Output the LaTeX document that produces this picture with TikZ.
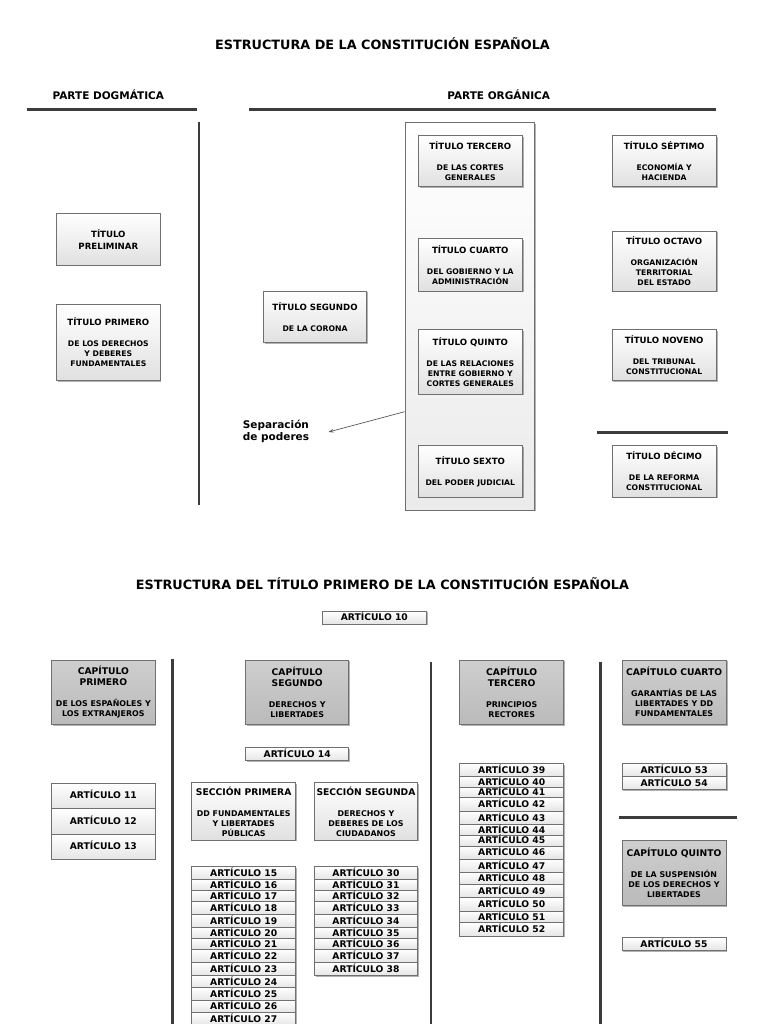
\documentclass[tikz,border=0pt]{standalone}
\usepackage{fontspec}
\setmainfont{DejaVu Sans}
\usetikzlibrary{shadows,arrows.meta}
\definecolor{linec}{HTML}{3C3C3C}
\definecolor{boxline}{HTML}{707070}
\newcommand\titf{\fontsize{12.8}{15}\selectfont\bfseries}
\newcommand\partf{\fontsize{10.5}{12}\selectfont\bfseries}
\newcommand\ttlf{\fontsize{8.6}{11}\selectfont}
\newcommand\ttlb{\fontsize{9.2}{11}\selectfont}
\newcommand\subf{\fontsize{7.7}{10}\selectfont\bfseries}
\newcommand\subb{\fontsize{7.9}{10}\selectfont\bfseries}
\newcommand\artf{\fontsize{9.2}{10}\selectfont\bfseries}
\newcommand\sepf{\fontsize{10.5}{12.7}\selectfont\bfseries}
\begin{document}
\begin{tikzpicture}[x=1pt,y=-1pt,
  shd/.style={drop shadow={shadow xshift=1.2pt,shadow yshift=-1.2pt,opacity=0.3,fill=black}},
  box/.style={draw=boxline,line width=0.8pt,top color=white,bottom color=black!12,shd,align=center,inner sep=0pt,font=\subf},
  bbox/.style={box,font=\subb},
  dbox/.style={bbox,top color=black!19,bottom color=black!27},
  art/.style={draw=boxline,line width=0.7pt,top color=white,bottom color=black!10,shd,inner sep=0pt,text height=6.7pt,text depth=0pt,font=\artf},
  cont/.style={draw=boxline,line width=0.8pt,top color=white,bottom color=black!8,shd},
  rule/.style={draw=linec,line width=3pt},
  vrule/.style={draw=linec,line width=2.2pt},
  ptr/.style={draw=black!65,line width=0.7pt,-{Stealth[length=5pt,width=3.6pt]}},
  head/.style={anchor=base,inner sep=0pt}
]
\fill[white] (0,0) rectangle (768,1024);
\useasboundingbox (0,0) rectangle (768,1024);

% ---------------- top part ----------------
\node[head,font=\titf] (tit1) at (382.5,49.4) {ESTRUCTURA DE LA CONSTITUCIÓN ESPAÑOLA};
\node[head,font=\partf] (pdog) at (108.3,100) {PARTE DOGMÁTICA};
\node[head,font=\partf] (porg) at (498.7,100) {PARTE ORGÁNICA};
\draw[rule] (26.7,109.3) -- (196.7,109.3);
\draw[rule] (249.3,109.3) -- (716.3,109.3);
\draw[vrule] (199,121.7) -- (199,505);

\node[box,minimum width=103.3pt,minimum height=51.7pt] (prel) at (108.35,239.15)
  {{\ttlf TÍTULO}\\[2pt]{\ttlf PRELIMINAR}};
\node[box,minimum width=103.3pt,minimum height=76.7pt] (prim) at (108.35,342.35)
  {{\ttlf TÍTULO PRIMERO}\\[11pt]DE LOS DERECHOS\\Y DEBERES\\FUNDAMENTALES};
\node[box,minimum width=103.4pt,minimum height=51.3pt] (seg) at (315,316.65)
  {{\ttlf TÍTULO SEGUNDO}\\[11pt]DE LA CORONA};

\node[cont,minimum width=129.7pt,minimum height=387.3pt] (cont) at (469.85,316.35) {};
\node[box,minimum width=104pt,minimum height=51pt] (ter) at (470.3,161.2)
  {{\ttlf TÍTULO TERCERO}\\[11pt]DE LAS CORTES\\GENERALES};
\node[box,minimum width=104pt,minimum height=52.7pt] (cua) at (470.3,264.65)
  {{\ttlf TÍTULO CUARTO}\\[11pt]DEL GOBIERNO Y LA\\ADMINISTRACIÓN};
\node[box,minimum width=104pt,minimum height=64.7pt] (qui) at (470.3,361.65)
  {{\ttlf TÍTULO QUINTO}\\[11pt]DE LAS RELACIONES\\ENTRE GOBIERNO Y\\CORTES GENERALES};
\node[box,minimum width=104pt,minimum height=51.3pt] (sex) at (470.3,471.35)
  {{\ttlf TÍTULO SEXTO}\\[11pt]DEL PODER JUDICIAL};

\node[box,minimum width=104.3pt,minimum height=51pt] (sept) at (664.15,161.2)
  {{\ttlf TÍTULO SÉPTIMO}\\[11pt]ECONOMÍA Y\\HACIENDA};
\node[box,minimum width=104.3pt,minimum height=59.7pt] (oct) at (664.15,261.15)
  {{\ttlf TÍTULO OCTAVO}\\[11pt]ORGANIZACIÓN\\TERRITORIAL\\DEL ESTADO};
\node[box,minimum width=104.3pt,minimum height=51.4pt] (nov) at (664.15,355)
  {{\ttlf TÍTULO NOVENO}\\[11pt]DEL TRIBUNAL\\CONSTITUCIONAL};
\draw[rule] (597.3,432.3) -- (728.3,432.3);
\node[box,minimum width=104.3pt,minimum height=51.3pt] (dec) at (664.15,471.35)
  {{\ttlf TÍTULO DÉCIMO}\\[11pt]DE LA REFORMA\\CONSTITUCIONAL};

\node[anchor=west,align=left,font=\sepf,inner sep=0pt] (sepa) at (242.7,431.3) {Separación\\de poderes};
\coordinate (sy) at (0,411.7);
\coordinate (sepend) at (328.5,432);
\draw[ptr] (cont.west |- sy) -- (sepend);

% ---------------- bottom part ----------------
\node[head,font=\titf] (tit2) at (382.5,589.3) {ESTRUCTURA DEL TÍTULO PRIMERO DE LA CONSTITUCIÓN ESPAÑOLA};
\node[art,minimum width=104pt,minimum height=13pt] (a10) at (374.3,617.5) {ARTÍCULO 10};

\draw[vrule] (172.5,659) -- (172.5,1024);
\draw[vrule] (431,661.7) -- (431,1024);
\draw[vrule] (600.5,661.7) -- (600.5,1024);

\node[dbox,minimum width=103.3pt,minimum height=64.3pt] (c1) at (103.35,692.15)
  {{\ttlb CAPÍTULO}\\[1pt]{\ttlb PRIMERO}\\[11pt]DE LOS ESPAÑOLES Y\\LOS EXTRANJEROS};
\node[dbox,minimum width=103pt,minimum height=64.3pt] (c2) at (297.2,692.15)
  {{\ttlb CAPÍTULO}\\[1pt]{\ttlb SEGUNDO}\\[11pt]DERECHOS Y\\LIBERTADES};
\node[dbox,minimum width=104pt,minimum height=64.3pt] (c3) at (511.7,692.15)
  {{\ttlb CAPÍTULO}\\[1pt]{\ttlb TERCERO}\\[11pt]PRINCIPIOS\\RECTORES};
\node[dbox,minimum width=104.3pt,minimum height=64.3pt] (c4) at (674.15,692.15)
  {{\ttlb CAPÍTULO CUARTO}\\[11pt]GARANTÍAS DE LAS\\LIBERTADES Y DD\\FUNDAMENTALES};

\node[art,minimum width=103pt,minimum height=13.4pt] (a14) at (297.2,754) {ARTÍCULO 14};

\node[bbox,minimum width=104pt,minimum height=57.3pt] (s1) at (243.7,811.35)
  {{\ttlb SECCIÓN PRIMERA}\\[11pt]DD FUNDAMENTALES\\Y LIBERTADES\\PÚBLICAS};
\node[bbox,minimum width=103.4pt,minimum height=57.3pt] (s2) at (366,811.35)
  {{\ttlb SECCIÓN SEGUNDA}\\[11pt]DERECHOS Y\\DEBERES DE LOS\\CIUDADANOS};

\foreach \n/\a/\b in {11/783/808,12/808/834,13/834/859}
  \node[art,minimum width=103.3pt,minimum height={(\b-\a)*1pt}] (a\n) at (103.35,{(\a+\b)/2}) {ARTÍCULO \n};

\foreach \n/\a/\b in {15/866.7/879.3,16/879.3/890,17/890/901.7,18/901.7/914,19/914/927.3,20/927.3/938.3,21/938.3/949,22/949/962.3,23/962.3/975.7,24/975.7/987.7,25/987.7/1000,26/1000/1012.3,27/1012.3/1025}
  \node[art,minimum width=104pt,minimum height={(\b-\a)*1pt}] (a\n) at (243.7,{(\a+\b)/2}) {ARTÍCULO \n};

\foreach \n/\a/\b in {30/866.7/879.3,31/879.3/890,32/890/901.7,33/901.7/914,34/914/927.3,35/927.3/938.3,36/938.3/949,37/949/962.3,38/962.3/975.7}
  \node[art,minimum width=103.4pt,minimum height={(\b-\a)*1pt}] (a\n) at (366,{(\a+\b)/2}) {ARTÍCULO \n};

\foreach \n/\a/\b in {39/763.3/776.7,40/776.7/787.3,41/787.3/797.7,42/797.7/811,43/811/824.3,44/824.3/835,45/835/846,46/846/859,47/859/872.3,48/872.3/884.3,49/884.3/897.7,50/897.7/911,51/911/922.7,52/922.7/936}
  \node[art,minimum width=104pt,minimum height={(\b-\a)*1pt}] (a\n) at (511.7,{(\a+\b)/2}) {ARTÍCULO \n};

\foreach \n/\a/\b in {53/763.3/776.7,54/776.7/789.3}
  \node[art,minimum width=104.3pt,minimum height={(\b-\a)*1pt}] (a\n) at (674.15,{(\a+\b)/2}) {ARTÍCULO \n};

\draw[rule] (619,817) -- (736.7,817);
\node[dbox,minimum width=104pt,minimum height=65.7pt] (c5) at (674,872.85)
  {{\ttlb CAPÍTULO QUINTO}\\[11pt]DE LA SUSPENSIÓN\\DE LOS DERECHOS Y\\LIBERTADES};
\node[art,minimum width=104pt,minimum height=12.6pt] (a55) at (674,944) {ARTÍCULO 55};
\end{tikzpicture}
\end{document}
